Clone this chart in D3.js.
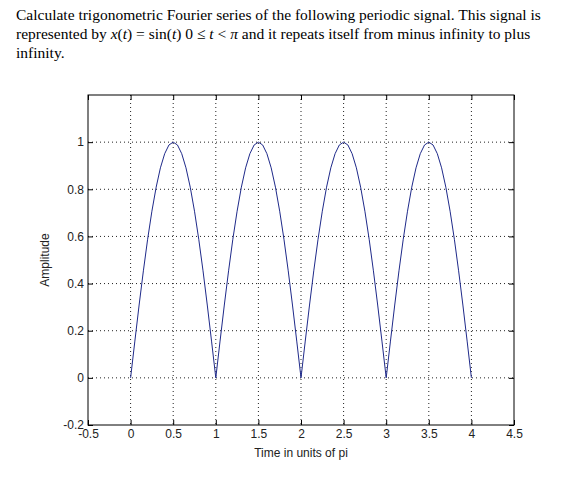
<!DOCTYPE html><html><head><meta charset="utf-8">
<script src="https://cdn.jsdelivr.net/npm/d3@7"></script>
<style>body{margin:0;background:#fff}svg{display:block}</style></head><body>
<svg id="c" width="573" height="479"></svg>
<script>
const xTicks=[-0.5,0,0.5,1,1.5,2,2.5,3,3.5,4,4.5];
const yTicks=[-0.2,0,0.2,0.4,0.6,0.8,1];
const tValues=[];
const amplitude=[
0,0.156,0.309,0.454,0.588,0.707,0.809,0.891,0.951,0.988,1,0.988,0.951,0.891,0.809,0.707,0.588,0.454,0.309,0.156,
0,0.156,0.309,0.454,0.588,0.707,0.809,0.891,0.951,0.988,1,0.988,0.951,0.891,0.809,0.707,0.588,0.454,0.309,0.156,
0,0.156,0.309,0.454,0.588,0.707,0.809,0.891,0.951,0.988,1,0.988,0.951,0.891,0.809,0.707,0.588,0.454,0.309,0.156,
0,0.156,0.309,0.454,0.588,0.707,0.809,0.891,0.951,0.988,1,0.988,0.951,0.891,0.809,0.707,0.588,0.454,0.309,0.156,0];
for(let i=0;i<amplitude.length;i++) tValues.push(+(i*0.05).toFixed(2));
const svg=d3.select("#c");
const L=88,R=514,T=95,B=425;
const x=d3.scaleLinear().domain([-0.5,4.5]).range([L,R]);
const y=d3.scaleLinear().domain([-0.2,1.2]).range([B,T]);
const tt=svg.append("text").attr("font-family","Liberation Serif").attr("font-size",15.5).attr("fill","#000");
tt.append("tspan").attr("x",16).attr("y",20).text("Calculate trigonometric Fourier series of the following periodic signal. This signal is");
const l2=tt.append("tspan").attr("x",16).attr("y",39);
l2.append("tspan").text("represented by ");
l2.append("tspan").attr("font-style","italic").text("x");
l2.append("tspan").text("(");
l2.append("tspan").attr("font-style","italic").text("t");
l2.append("tspan").text(") = sin(");
l2.append("tspan").attr("font-style","italic").text("t");
l2.append("tspan").text(")   0 ≤ ");
l2.append("tspan").attr("font-style","italic").text("t");
l2.append("tspan").text(" < ");
l2.append("tspan").attr("font-style","italic").text("π");
l2.append("tspan").text("  and it repeats itself from minus infinity to plus");
tt.append("tspan").attr("x",16).attr("y",58).text("infinity.");
const g=svg.append("g").attr("stroke","#222").attr("stroke-width",1).attr("stroke-dasharray","1,3");
xTicks.slice(1,-1).forEach(v=>g.append("line").attr("x1",x(v)).attr("x2",x(v)).attr("y1",T).attr("y2",B));
yTicks.slice(1).forEach(v=>g.append("line").attr("x1",L).attr("x2",R).attr("y1",y(v)).attr("y2",y(v)));
svg.append("rect").attr("x",L).attr("y",T).attr("width",R-L).attr("height",B-T).attr("fill","none").attr("stroke","#000");
const fmt=d=>String(d);
const ax=svg.append("g").attr("transform",`translate(0,${B})`).call(d3.axisBottom(x).tickValues(xTicks).tickFormat(fmt).tickSizeInner(-5).tickSizeOuter(0));
const ay=svg.append("g").attr("transform",`translate(${L},0)`).call(d3.axisLeft(y).tickValues(yTicks).tickFormat(fmt).tickSizeInner(-5).tickSizeOuter(0));
svg.append("g").attr("transform",`translate(${R},0)`).call(d3.axisRight(y).tickValues(yTicks).tickFormat("").tickSizeInner(-5).tickSizeOuter(0));
svg.append("g").attr("transform",`translate(0,${T})`).call(d3.axisTop(x).tickValues(xTicks).tickFormat("").tickSizeInner(-5).tickSizeOuter(0));
svg.selectAll(".domain").remove();
svg.selectAll(".tick text").attr("font-family","Liberation Sans").attr("font-size",12).attr("fill","#222");
ax.selectAll(".tick text").attr("dy","0.9em").attr("y",2);
ay.selectAll(".tick text").attr("x",-4);
svg.append("path").datum(tValues.map((t,i)=>[t,amplitude[i]]))
 .attr("d",d3.line().x(d=>x(d[0])).y(d=>y(d[1]))).attr("fill","none").attr("stroke","#1f2a8a").attr("stroke-width",1);
svg.append("text").attr("x",(L+R)/2).attr("y",457).attr("text-anchor","middle").attr("font-family","Liberation Sans").attr("font-size",12).attr("fill","#222").text("Time in units of pi");
svg.append("text").attr("transform",`translate(49,${(T+B)/2}) rotate(-90)`).attr("text-anchor","middle").attr("font-family","Liberation Sans").attr("font-size",12).attr("fill","#222").text("Amplitude");
</script></body></html>
